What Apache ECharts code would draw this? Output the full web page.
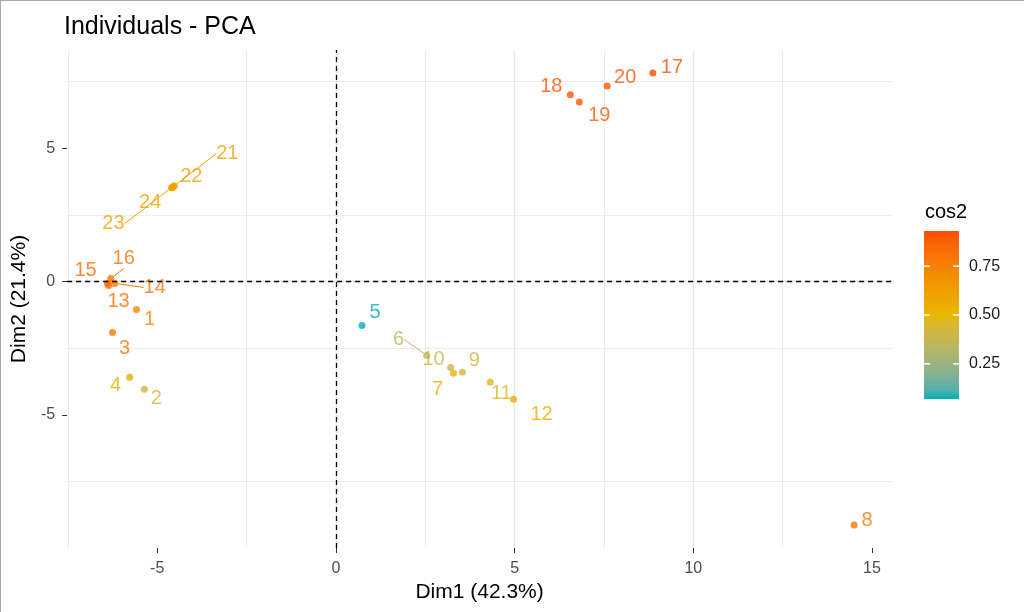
<!DOCTYPE html>
<html>
<head>
<meta charset="utf-8">
<title>Individuals - PCA</title>
<script src="https://cdn.jsdelivr.net/npm/echarts@6/dist/echarts.min.js"></script>
<style>
  html, body { margin: 0; padding: 0; background: #fff; }
  #main { width: 1024px; height: 612px; box-sizing: border-box; border-top: 1px solid #a8a8a8; border-left: 1px solid #a8a8a8; }
</style>
</head>
<body>
<div id="main"></div>
<script>
// individuals, coordinates on Dim1 / Dim2 and their cos2
const names = ['1', '2', '3', '4', '5', '6', '7', '8', '9', '10', '11', '12',
  '13', '14', '15', '16', '17', '18', '19', '20', '21', '22', '23', '24']
const dim1 = [-5.58, -5.36, -6.25, -5.77, 0.73, 2.54, 3.29, 14.50, 3.54, 3.21, 4.32, 4.97,
  -6.36, -6.19, -6.39, -6.30, 8.87, 6.56, 6.81, 7.59, -4.52, -4.55, -4.60, -4.58]
const dim2 = [-1.05, -4.04, -1.91, -3.59, -1.65, -2.77, -3.44, -9.13, -3.40, -3.22, -3.78, -4.41,
  -0.15, -0.07, -0.07, 0.11, 7.82, 7.00, 6.73, 7.33, 3.59, 3.55, 3.52, 3.52]
const cos2 = [0.72, 0.42, 0.78, 0.56, 0.07, 0.36, 0.54, 0.80, 0.42, 0.40, 0.47, 0.55,
  0.82, 0.80, 0.83, 0.81, 0.93, 0.91, 0.90, 0.91, 0.60, 0.60, 0.59, 0.60]
const xTicks = [-5, 0, 5, 10, 15]
const yTicks = [-5, 0, 5]
const legendTicks = [0.25, 0.5, 0.75]
const gradientCols = ['#00AFBB', '#E7B800', '#FC4E07']

// label nudges in px (like ggrepel did it), and which ones get a segment
const labelDx = [13, 12, 12, -14, 13, -28, -16, 13, 12, -17, 11, 28, 10, 40, -22, 13, 19, -19, 20, 18, 53, 18, -58, -22]
const labelDy = [10, 9, 16, 8, -13, -16, 16, -5, -12, -8, 11, 15, 16, 4, -13, -20, -5, -8, 13, -9, -32, -10, 36, 15]
const withLine = ['6', '14', '16', '21', '23']

const FONT = 'Liberation Sans, Arial, sans-serif'

// ggplot mixes the gradient colours in CIELAB, not in RGB
function toLin(c) { c /= 255; return c <= 0.04045 ? c / 12.92 : Math.pow((c + 0.055) / 1.055, 2.4) }
function fromLin(c) {
  c = c <= 0.0031308 ? 12.92 * c : 1.055 * Math.pow(c, 1 / 2.4) - 0.055
  return Math.round(Math.max(0, Math.min(1, c)) * 255)
}
function hexToLab(hex) {
  const n = parseInt(hex.slice(1), 16)
  const [r, g, b] = [(n >> 16) & 255, (n >> 8) & 255, n & 255].map(toLin)
  const X = (0.4124 * r + 0.3576 * g + 0.1805 * b) / 0.95047
  const Y = 0.2126 * r + 0.7152 * g + 0.0722 * b
  const Z = (0.0193 * r + 0.1192 * g + 0.9505 * b) / 1.08883
  const f = t => t > 0.008856 ? Math.cbrt(t) : 7.787 * t + 16 / 116
  return [116 * f(Y) - 16, 500 * (f(X) - f(Y)), 200 * (f(Y) - f(Z))]
}
function labToRgb(lab) {
  const fy = (lab[0] + 16) / 116, fx = fy + lab[1] / 500, fz = fy - lab[2] / 200
  const finv = t => t * t * t > 0.008856 ? t * t * t : (t - 16 / 116) / 7.787
  const X = finv(fx) * 0.95047, Y = finv(fy), Z = finv(fz) * 1.08883
  const r = 3.2406 * X - 1.5372 * Y - 0.4986 * Z
  const g = -0.9689 * X + 1.8758 * Y + 0.0415 * Z
  const b = 0.0557 * X - 0.2040 * Y + 1.0570 * Z
  return 'rgb(' + [r, g, b].map(fromLin).join(',') + ')'
}
const labs = gradientCols.map(hexToLab)
function ramp(t) {
  const seg = t < 0.5 ? 0 : 1
  const u = seg === 0 ? t / 0.5 : (t - 0.5) / 0.5
  const a = labs[seg], b = labs[seg + 1]
  return labToRgb(a.map((v, k) => v + (b[k] - v) * u))
}

const cMin = Math.min(...cos2)
const cMax = Math.max(...cos2)
const colorOf = v => ramp((v - cMin) / (cMax - cMin))

const chart = echarts.init(document.getElementById('main'))

const seriesData = dim1.map((x, i) => {
  const col = colorOf(cos2[i])
  return {
    name: names[i],
    value: [x, dim2[i]],
    itemStyle: { color: col },
    label: { color: col },
    labelLine: { show: withLine.includes(names[i]), lineStyle: { color: col, width: 1 } }
  }
})

// colour bar legend
const barX = 923, barTop = 230, barW = 35, barH = 168
const yOf = v => barTop + barH - (v - cMin) / (cMax - cMin) * barH
const stops = []
for (let k = 0; k <= 20; k++) stops.push({ offset: k / 20, color: ramp(k / 20) })
const legendGraphic = [
  {
    type: 'text', left: 924, top: 201,
    style: { text: 'cos2', fontSize: 20, fontFamily: FONT, fill: '#000' }
  },
  {
    type: 'rect', shape: { x: barX, y: barTop, width: barW, height: barH },
    style: { fill: new echarts.graphic.LinearGradient(0, 1, 0, 0, stops) }
  }
]
legendTicks.forEach(t => {
  const y = yOf(t)
  legendGraphic.push(
    { type: 'line', shape: { x1: barX, y1: y, x2: barX + 6, y2: y }, style: { stroke: '#fff', lineWidth: 1.5 } },
    { type: 'line', shape: { x1: barX + barW - 6, y1: y, x2: barX + barW, y2: y }, style: { stroke: '#fff', lineWidth: 1.5 } },
    {
      type: 'text', x: 968, y: y,
      style: { text: t.toFixed(2), fontSize: 16, fontFamily: FONT, fill: '#1a1a1a', verticalAlign: 'middle', align: 'left' }
    }
  )
})

const option = {
  animation: false,
  backgroundColor: '#fff',
  title: {
    text: 'Individuals - PCA',
    left: 58,
    top: 9,
    textStyle: { fontSize: 25, fontWeight: 'normal', color: '#000', fontFamily: FONT }
  },
  grid: { left: 65, right: 132, top: 49, bottom: 64, containLabel: false },
  xAxis: {
    type: 'value',
    min: -7.52,
    max: 15.56,
    minInterval: 5,
    maxInterval: 5,
    name: 'Dim1 (42.3%)',
    nameLocation: 'middle',
    nameGap: 33,
    nameTextStyle: { fontSize: 21, color: '#000', fontFamily: FONT },
    axisLine: { show: false, onZero: false },
    axisTick: { show: true, length: 5, customValues: xTicks, lineStyle: { color: '#333' } },
    axisLabel: { customValues: xTicks, margin: 13, fontSize: 16, color: '#4d4d4d', fontFamily: FONT },
    splitLine: { show: true, showMinLine: false, showMaxLine: false, lineStyle: { color: '#e6e6e6', width: 1.3 } },
    minorTick: { show: false, splitNumber: 2 },
    minorSplitLine: { show: true, lineStyle: { color: '#ececec', width: 1 } }
  },
  yAxis: {
    type: 'value',
    min: -9.99,
    max: 8.68,
    minInterval: 5,
    maxInterval: 5,
    name: 'Dim2 (21.4%)',
    nameLocation: 'middle',
    nameGap: 24,
    nameTextStyle: { fontSize: 21, color: '#000', fontFamily: FONT },
    axisLine: { show: false, onZero: false },
    axisTick: { show: true, length: 5, customValues: yTicks, lineStyle: { color: '#333' } },
    axisLabel: { customValues: yTicks, margin: 12, fontSize: 16, color: '#4d4d4d', fontFamily: FONT },
    splitLine: { show: true, showMinLine: false, showMaxLine: false, lineStyle: { color: '#e6e6e6', width: 1.3 } },
    minorTick: { show: false, splitNumber: 2 },
    minorSplitLine: { show: true, lineStyle: { color: '#ececec', width: 1 } }
  },
  graphic: legendGraphic,
  series: [
    {
      type: 'scatter',
      symbolSize: 7,
      data: seriesData,
      label: {
        show: true,
        position: 'inside',
        formatter: '{b}',
        fontSize: 20,
        fontFamily: FONT
      },
      labelLayout: params => ({ dx: labelDx[params.dataIndex], dy: labelDy[params.dataIndex] }),
      markLine: {
        silent: true,
        symbol: ['none', 'none'],
        label: { show: false },
        lineStyle: { color: '#000', type: [5, 4], width: 1.3 },
        data: [{ xAxis: 0 }, { yAxis: 0 }]
      },
      z: 3
    }
  ]
}

chart.setOption(option)
</script>
</body>
</html>
